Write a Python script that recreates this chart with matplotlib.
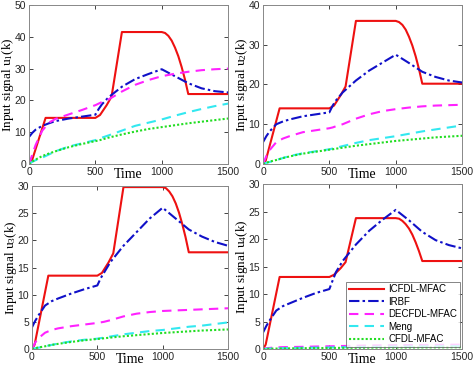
import matplotlib
matplotlib.use('Agg')
import matplotlib.pyplot as plt

# time grids
t_red = [0, 20, 125, 500, 535, 585, 622, 700, 1000, 1025, 1050, 1075, 1100,
         1125, 1150, 1175, 1200, 1500]
t = [0, 25, 50, 100, 150, 200, 300, 400, 500, 525, 550, 600, 700, 800, 900,
     1000, 1100, 1200, 1300, 1400, 1500]

# ICFDL-MFAC (red)
red_u1 = [0, 0.8, 14.5, 14.5, 15.4, 18.5, 21.2, 41.5, 41.5, 41.2, 40.3, 38.8,
          36.6, 33.9, 30.5, 26.6, 22.0, 22.0]
red_u2 = [0, 0.8, 14, 14, 14.7, 17.3, 19.5, 36, 36, 35.7, 35.0, 33.8, 32.0,
          29.8, 27.1, 23.9, 20.2, 20.2]
red_u3 = [0, 0.8, 13.5, 13.5, 14.0, 15.9, 17.6, 29.8, 29.8, 29.6, 29.0, 28.1,
          26.8, 25.1, 23.0, 20.6, 17.8, 17.8]
red_u4 = [0, 0.8, 13.1, 13.1, 13.5, 14.7, 15.8, 23.8, 23.8, 23.7, 23.3, 22.7,
          21.9, 20.8, 19.4, 17.8, 16.0, 16.0]

# IRBF (blue)
irbf_u1 = [8.5, 9.8, 10.8, 12.0, 12.8, 13.5, 14.3, 14.9, 15.5, 17.3, 18.8,
           21.0, 24.3, 26.7, 28.3, 29.8, 27.6, 25.4, 23.8, 22.9, 22.5]
irbf_u2 = [5.5, 7.0, 8.2, 10.0, 10.7, 11.2, 12.0, 12.5, 13.0, 14.7, 16.0,
           18.0, 21.0, 23.5, 25.5, 27.5, 25.4, 23.2, 21.9, 21.0, 20.5]
irbf_u3 = [4.0, 5.2, 6.2, 8.0, 8.8, 9.3, 10.2, 11.0, 11.7, 13.0, 14.0, 16.0,
           19.0, 21.5, 24.0, 26.0, 24.0, 22.0, 20.7, 19.7, 19.0]
irbf_u4 = [3.0, 4.2, 5.2, 7.0, 7.8, 8.3, 9.3, 10.2, 10.9, 12.5, 14.0, 16.0,
           19.0, 21.5, 23.5, 25.3, 23.4, 21.3, 19.8, 18.9, 18.3]

# DECFDL-MFAC (magenta)
dec_u1 = [0, 3, 6, 10.5, 13.0, 14.2, 15.6, 17.0, 18.5, 19.0, 19.5, 20.3,
          22.8, 24.9, 26.4, 27.6, 28.4, 29.0, 29.5, 29.8, 30.0]
dec_u2 = [0, 2.0, 3.5, 5.5, 6.4, 7.0, 8.0, 8.5, 9.0, 9.2, 9.5, 10.0, 11.4,
          12.5, 13.3, 13.8, 14.2, 14.5, 14.7, 14.8, 14.9]
dec_u3 = [0, 1.2, 2.0, 3.0, 3.5, 3.8, 4.2, 4.5, 4.8, 4.9, 5.0, 5.3, 6.0,
          6.5, 6.8, 7.0, 7.1, 7.2, 7.3, 7.4, 7.5]
dec_u4 = [0, 0.15, 0.2, 0.3, 0.33, 0.36, 0.4, 0.45, 0.5, 0.5, 0.52, 0.55,
          0.6, 0.65, 0.68, 0.7, 0.72, 0.74, 0.76, 0.78, 0.8]

# Meng (cyan)
meng_u1 = [0, 0.7, 1.2, 2.0, 3.0, 4.0, 5.5, 6.5, 7.5, 7.9, 8.3, 9.0, 10.5,
           12.0, 13.0, 14.0, 15.2, 16.3, 17.3, 18.2, 19.0]
meng_u2 = [0, 0.3, 0.5, 1.0, 1.5, 2.0, 2.7, 3.2, 3.7, 3.9, 4.1, 4.5, 5.3,
           6.0, 6.5, 7.0, 7.6, 8.2, 8.7, 9.2, 9.7]
meng_u3 = [0, 0.15, 0.25, 0.5, 0.75, 1.0, 1.4, 1.7, 1.9, 2.0, 2.1, 2.3, 2.7,
           3.0, 3.3, 3.5, 3.8, 4.1, 4.3, 4.6, 4.9]
meng_u4 = [0, 0.05, 0.08, 0.12, 0.15, 0.18, 0.22, 0.25, 0.28, 0.29, 0.3,
           0.32, 0.35, 0.38, 0.4, 0.42, 0.44, 0.46, 0.48, 0.5, 0.52]

# CFDL-MFAC (green)
cfdl_u1 = [0, 0.8, 1.4, 2.5, 3.3, 4.0, 5.3, 6.3, 7.2, 7.4, 7.7, 8.3, 9.3,
           10.2, 11.0, 11.6, 12.2, 12.8, 13.3, 13.8, 14.3]
cfdl_u2 = [0, 0.3, 0.6, 1.0, 1.5, 1.9, 2.6, 3.1, 3.6, 3.7, 3.85, 4.1, 4.6,
           5.0, 5.4, 5.8, 6.1, 6.4, 6.7, 6.9, 7.1]
cfdl_u3 = [0, 0.15, 0.28, 0.5, 0.75, 0.95, 1.3, 1.6, 1.85, 1.9, 1.97, 2.1,
           2.35, 2.55, 2.75, 2.95, 3.1, 3.25, 3.4, 3.5, 3.6]
cfdl_u4 = [0, 0.03, 0.05, 0.08, 0.1, 0.12, 0.15, 0.17, 0.19, 0.2, 0.2, 0.21,
           0.23, 0.25, 0.26, 0.27, 0.28, 0.29, 0.3, 0.31, 0.32]

ylims = [50, 40, 30, 30]
yticks = [[0, 10, 20, 30, 40, 50], [0, 10, 20, 30, 40],
          [0, 5, 10, 15, 20, 25, 30], [0, 5, 10, 15, 20, 25, 30]]
xticks = [0, 500, 1000, 1500]
labels = ['ICFDL-MFAC', 'IRBF', 'DECFDL-MFAC', 'Meng', 'CFDL-MFAC']

plt.rcParams['mathtext.fontset'] = 'custom'
plt.rcParams['mathtext.rm'] = 'Liberation Serif'
plt.rcParams['mathtext.default'] = 'rm'
plt.rcParams['font.family'] = 'Liberation Sans'

fig = plt.figure(figsize=(4.74, 3.65), dpi=100)
positions = [[0.0612, 0.5507, 0.420, 0.4356],
             [0.5549, 0.5507, 0.420, 0.4356],
             [0.0675, 0.0438, 0.4135, 0.4466],
             [0.5549, 0.0438, 0.420, 0.452]]

reds = [red_u1, red_u2, red_u3, red_u4]
irbfs = [irbf_u1, irbf_u2, irbf_u3, irbf_u4]
decs = [dec_u1, dec_u2, dec_u3, dec_u4]
mengs = [meng_u1, meng_u2, meng_u3, meng_u4]
cfdls = [cfdl_u1, cfdl_u2, cfdl_u3, cfdl_u4]

serif = 'Liberation Serif'
for i in range(4):
    ax = fig.add_axes(positions[i])
    ax.plot(t_red, reds[i], color='#ee1111', lw=1.5, label=labels[0])
    ax.plot(t, irbfs[i], color='#1010c8', lw=1.5, ls=(0, (5, 1.5, 1.2, 1.5)),
            label=labels[1])
    ax.plot(t, decs[i], color='#ff22ff', lw=1.5, ls=(0, (4.5, 3)), label=labels[2])
    ax.plot(t, mengs[i], color='#33e8f0', lw=1.5, ls=(0, (4.5, 3)), label=labels[3])
    ax.plot(t, cfdls[i], color='#22dd22', lw=1.5, ls=(0, (1, 1)), label=labels[4])
    ax.set_xlim(0, 1500)
    ax.set_ylim(0, ylims[i])
    ax.set_xticks(xticks)
    ax.set_yticks(yticks[i])
    ax.tick_params(direction='in', top=True, right=True, length=3, width=0.6,
                   labelsize=7.5, colors='#262626', pad=2)
    for s in ax.spines.values():
        s.set_color('#888888')
        s.set_linewidth(0.7)
    ax.set_xlabel('Time', fontfamily=serif, fontsize=10)
    ax.xaxis.set_label_coords(0.5, -0.025)
    ax.set_ylabel('Input signal u$_%d$(k)' % (i + 1), fontfamily=serif, fontsize=9.5)
    ax.yaxis.set_label_coords(-0.066, 0.5)
    if i == 3:
        leg = ax.legend(loc='lower right', fontsize=7, frameon=True, fancybox=False,
                        handlelength=3.6, borderpad=0.3, labelspacing=0.25,
                        handletextpad=0.5, borderaxespad=0.2,
                        bbox_to_anchor=(1.0, 0.0))
        leg.get_frame().set_edgecolor('#666666')
        leg.get_frame().set_linewidth(0.7)

fig.savefig('out.png', dpi=100)
